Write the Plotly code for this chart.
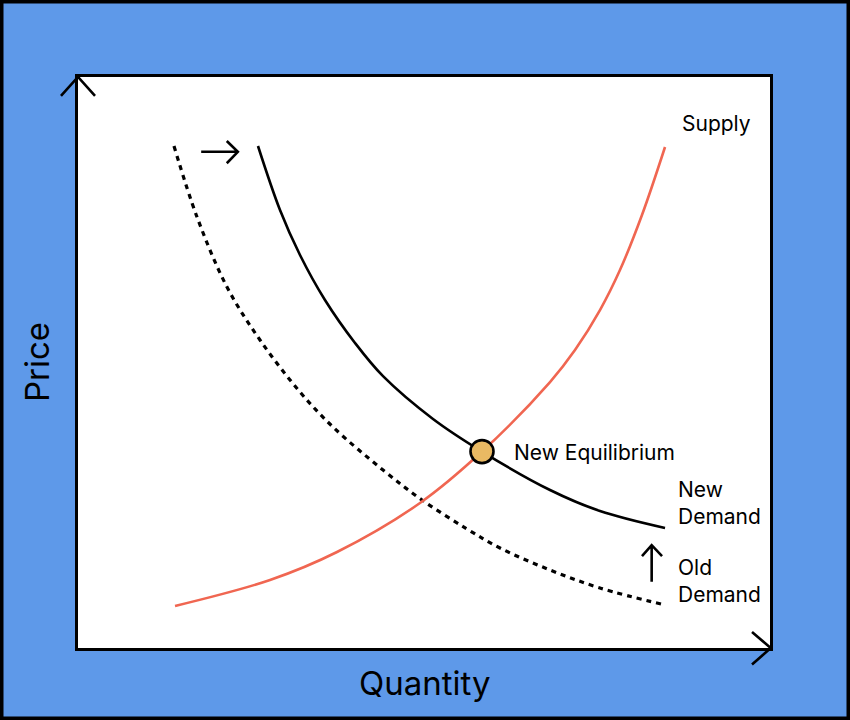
import plotly.graph_objects as go

# Curve readings (x: quantity 0-100, y: price 0-100)
supply_x = [14.02, 27.75, 37.43, 49.42, 58.38, 68.21, 71.82, 75.43, 78.32, 81.50, 84.83]
supply_y = [7.36, 11.91, 16.81, 25.39, 34.40, 46.58, 52.19, 59.19, 66.20, 75.83, 87.74]

new_demand_x = [26.01, 29.19, 32.08, 35.69, 40.03, 44.08, 51.30, 58.38, 68.21, 75.43, 84.83]
new_demand_y = [87.92, 76.71, 68.83, 60.95, 53.42, 47.60, 40.11, 34.40, 27.67, 23.99, 21.02]

old_demand_x = [13.87, 17.20, 21.53, 26.30, 32.08, 36.85, 44.08, 49.71, 56.21, 60.98, 68.21, 75.43, 84.83]
old_demand_y = [87.92, 75.48, 63.22, 53.94, 44.83, 38.70, 31.17, 25.92, 20.84, 17.51, 13.66, 10.51, 7.53]

equilibrium_x = [58.38]
equilibrium_y = [34.40]

labels = ["Supply", "New Equilibrium", "New<br>Demand", "Old<br>Demand"]
label_x = [87.0, 62.7, 86.4, 86.4]
label_y = [91.8, 34.3, 25.4, 11.7]

BLUE = "#5E99E9"
RED = "#F06651"
FONT = "Inter, Liberation Sans, Arial, sans-serif"

fig = go.Figure()
fig.add_trace(go.Scatter(x=old_demand_x, y=old_demand_y, mode="lines",
                         line=dict(color="black", width=3.2, dash="5px,5px", shape="spline", smoothing=1),
                         hoverinfo="skip"))
fig.add_trace(go.Scatter(x=supply_x, y=supply_y, mode="lines",
                         line=dict(color=RED, width=2.6, shape="spline", smoothing=1), hoverinfo="skip"))
fig.add_trace(go.Scatter(x=new_demand_x, y=new_demand_y, mode="lines",
                         line=dict(color="black", width=2.6, shape="spline", smoothing=1), hoverinfo="skip"))
fig.add_trace(go.Scatter(x=equilibrium_x, y=equilibrium_y, mode="markers",
                         marker=dict(size=23, color="#E9B963", line=dict(color="black", width=2.6)),
                         hoverinfo="skip", cliponaxis=False))

for t, lx, ly in zip(labels, label_x, label_y):
    fig.add_annotation(x=lx, y=ly, xref="x", yref="y", text=t, showarrow=False,
                       xanchor="left", yanchor="middle", align="left",
                       font=dict(family=FONT, size=21, color="black"))

fig.add_annotation(x=-0.0592, y=0.5009, xref="paper", yref="paper", text="Price",
                   xanchor="center", yanchor="middle",
                   showarrow=False, textangle=-90, font=dict(family=FONT, size=33, color="black"))
fig.add_annotation(x=0.501, y=-0.0613, xref="paper", yref="paper", text="Quantity",
                   xanchor="center", yanchor="middle",
                   showarrow=False, font=dict(family=FONT, size=33, color="black"))

shapes = []
def chevron(path):
    shapes.append(dict(type="path", path=path, xref="paper", yref="paper",
                       line=dict(color="black", width=2.6), layer="above"))

# axis arrow heads (paper coordinates of the plot area)
chevron("M -0.0246 0.967 L 0 1 L 0.0246 0.967")
chevron("M 0.974 0.028 L 1.001 0 L 0.974 -0.029")
# shift arrows
chevron("M 0.178 0.869 L 0.231 0.869 M 0.215 0.888 L 0.231 0.869 L 0.215 0.849")
chevron("M 0.829 0.116 L 0.829 0.180 M 0.815 0.161 L 0.829 0.180 L 0.844 0.161")
# outer frame
shapes.append(dict(type="rect", xref="paper", yref="paper",
                   x0=-78/692, x1=850/692 - 78/692, y0=-72/571, y1=648/571,
                   line=dict(color="black", width=7), fillcolor="rgba(0,0,0,0)", layer="above"))

fig.update_layout(
    width=850, height=720,
    margin=dict(l=78, r=80, t=77, b=72),
    paper_bgcolor=BLUE, plot_bgcolor="white",
    showlegend=False, shapes=shapes,
    xaxis=dict(range=[0, 100], showgrid=False, zeroline=False, showticklabels=False,
               ticks="", showline=True, mirror=True, linecolor="black", linewidth=2.6, fixedrange=True),
    yaxis=dict(range=[0, 100], showgrid=False, zeroline=False, showticklabels=False,
               ticks="", showline=True, mirror=True, linecolor="black", linewidth=2.6, fixedrange=True),
)

fig.write_html("out.html", config={"displayModeBar": False},
               post_script="document.body.style.margin='0';document.body.style.overflow='hidden';")
